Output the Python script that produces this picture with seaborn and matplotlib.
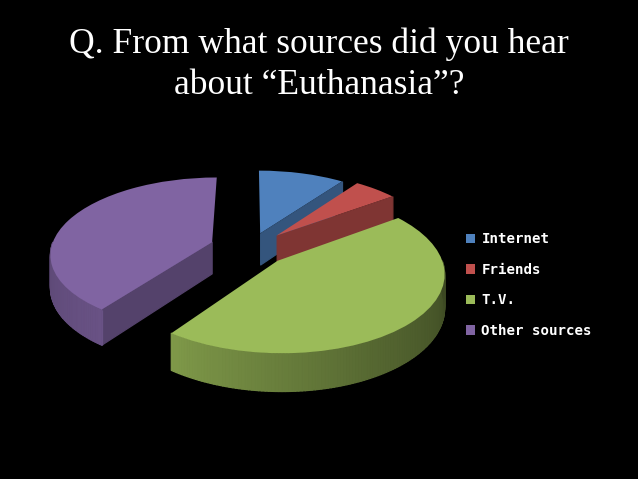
import numpy as np
import seaborn as sns
import matplotlib
matplotlib.use('Agg')
import matplotlib.pyplot as plt
from matplotlib.collections import PolyCollection
from matplotlib.transforms import Transform

labels = ['Internet', 'Friends', 'T.V.', 'Other sources']
values = [10, 5, 45, 40]
explode = [0.21, 0.24, 0.235, 0.25]
colors = ['#4F81BD', '#C0504D', '#9BBB59', '#8064A2']
order = [2, 3, 4, 2]
title = 'Q. From what sources did you hear\nabout \u201cEuthanasia\u201d?'

# look of the tilted pie, in pixels
cx, cy = 250, 248
rx, ry = 161, 75.4
tilt = 0.141
depth = 32

sns.set_theme(style='dark', rc={'figure.facecolor': 'black', 'axes.facecolor': 'black', 'savefig.facecolor': 'black'})


class Tilt(Transform):
    # flat pie coordinates -> pixels, z=1 is the bottom of the slab
    input_dims = 2
    output_dims = 2

    def __init__(self, z=0):
        super().__init__()
        self.z = z

    def transform_non_affine(self, values):
        values = np.asarray(values, dtype=float)
        w = 1 + tilt * values[:, 1]
        return np.column_stack([cx + rx * values[:, 0] / w,
                                cy + (self.z * depth - ry * values[:, 1]) / w])


def wall_shade(phi):
    return np.interp((90 - phi) % 360, [90, 150, 216, 290], [0.38, 0.55, 0.82, 0.66])


fig = plt.figure(figsize=(6.38, 4.79), dpi=100)
ax = fig.add_axes([0, 0, 1, 1])
wedges, _ = ax.pie(values, explode=explode, colors=colors, startangle=90, counterclock=False,
                   wedgeprops={'linewidth': 0})
ax.set_aspect('auto')
ax.set_xlim(0, 638)
ax.set_ylim(479, 0)
ax.axis('off')

top = Tilt(0)
bottom = Tilt(1)

for wedge, color, z in zip(wedges, colors, order):
    wedge.set_transform(top + ax.transData)
    wedge.set_zorder(z + 0.5)
    base = np.array(matplotlib.colors.to_rgb(color))
    (x0, y0) = wedge.center
    polys, fills = [], []

    # cut faces that look towards the viewer
    for phi, sign in ((wedge.theta1, 1), (wedge.theta2, -1)):
        if sign * np.cos(np.radians(phi)) > 1e-6:
            tip = [[x0, y0], [x0 + np.cos(np.radians(phi)), y0 + np.sin(np.radians(phi))]]
            up = top.transform(np.array(tip))
            down = bottom.transform(np.array(tip))
            polys.append([up[0], up[1], down[1], down[0]])
            fills.append(base * 0.66)

    # round outer wall, front half only
    angles = np.arange(wedge.theta1, wedge.theta2 + 0.5, 1.0)
    angles = np.append(angles, wedge.theta2)
    for a, b in zip(angles[:-1], angles[1:]):
        if np.sin(np.radians((a + b) / 2)) < 0:
            rim = np.column_stack([x0 + np.cos(np.radians([a, b])), y0 + np.sin(np.radians([a, b]))])
            up = top.transform(rim)
            down = bottom.transform(rim)
            polys.append([up[0], up[1], down[1], down[0]])
            fills.append(base * wall_shade((a + b) / 2))

    if polys:
        ax.add_collection(PolyCollection(polys, facecolors=fills, edgecolors=fills,
                                         linewidths=0.9, zorder=z))

leg = ax.legend(wedges, labels, loc='upper left', bbox_to_anchor=(462 / 638, 1 - 228 / 479),
                frameon=False, prop={'family': 'DejaVu Sans Mono', 'weight': 'bold', 'size': 10.2},
                labelcolor='white', handlelength=0.65, handleheight=0.65, handletextpad=0.42,
                labelspacing=1.17, borderpad=0.3, borderaxespad=0)
leg.set_zorder(10)

fig.text(0.5, 1 - 65 / 479, title, ha='center', va='center', color='white',
         family='Liberation Serif', fontsize=25.6, linespacing=1.32)

fig.savefig('out.png', dpi=100)
